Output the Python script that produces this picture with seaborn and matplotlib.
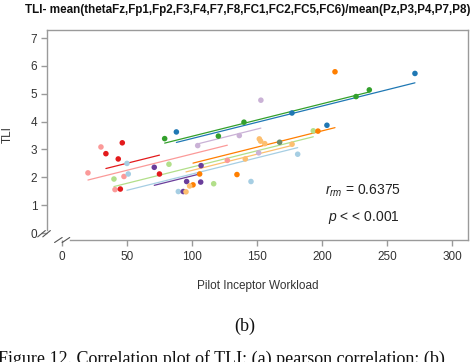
import numpy as np
import pandas as pd
import matplotlib
matplotlib.use("Agg")
import matplotlib.pyplot as plt
import seaborn as sns

# ---------------- data ----------------
subjects = ["S1", "S2", "S3", "S4", "S5", "S6", "S7", "S8", "S9", "S10", "S11"]
subject_colors = ["#fb9a99", "#e31a1c", "#b2df8a", "#a6cee3", "#33a02c", "#1f78b4",
                  "#cab2d6", "#6a3d9a", "#ff7f00", "#fdbf6f", "#6b8a6b"]
workload = [
    [20, 30, 40.8, 47.7, 127.2],
    [33.8, 43.3, 46.4, 44.9, 75],
    [40, 82.3, 116.7, 193.3],
    [50, 51, 89.5, 145.4, 181.3],
    [79, 120.3, 140, 226.2, 236.4],
    [88, 176.9, 203.8, 271.5],
    [104.4, 136.4, 151.3, 153],
    [71, 93.3, 95.9, 106.7, 107],
    [100.8, 105.9, 134.6, 196.9, 210],
    [95.4, 98.2, 141, 151.8, 152.8, 156, 177],
    [167.4],
]
tli = [
    [2.16, 3.09, 1.56, 2.03, 2.61],
    [2.85, 2.66, 3.24, 1.58, 2.12],
    [1.94, 2.47, 1.77, 3.67],
    [2.50, 2.12, 1.49, 1.85, 2.83],
    [3.39, 3.48, 3.98, 4.90, 5.14],
    [3.63, 4.31, 3.87, 5.73],
    [3.14, 3.50, 2.88, 4.77],
    [2.36, 1.49, 1.85, 1.83, 2.42],
    [1.73, 2.12, 2.10, 3.66, 5.79],
    [1.48, 1.69, 2.66, 3.38, 3.30, 3.21, 3.19],
    [3.26],
]
x_ticks = [0, 50, 100, 150, 200, 250, 300]
y_ticks = [0, 1, 2, 3, 4, 5, 6, 7]
r_rm_text = "0.6375"
p_text = "< < 0.001"

# ---------------- repeated-measures fit ----------------
rows = []
for s, xs, ys in zip(subjects, workload, tli):
    for xv, yv in zip(xs, ys):
        rows.append({"subject": s, "workload": xv, "tli": yv})
df = pd.DataFrame(rows)
df["xc"] = df["workload"] - df.groupby("subject")["workload"].transform("mean")
df["yc"] = df["tli"] - df.groupby("subject")["tli"].transform("mean")
slope = (df["xc"] * df["yc"]).sum() / (df["xc"] ** 2).sum()

line_rows = []
for s, g in df.groupby("subject"):
    if len(g) < 2:
        continue
    mx, my = g["workload"].mean(), g["tli"].mean()
    for xv in (g["workload"].min(), g["workload"].max()):
        line_rows.append({"subject": s, "workload": xv, "tli": my + slope * (xv - mx)})
lines = pd.DataFrame(line_rows)

palette = dict(zip(subjects, subject_colors))

# ---------------- figure ----------------
sns.set_theme(style="white")
plt.rcParams["font.family"] = ["Liberation Sans", "DejaVu Sans"]
plt.rcParams["mathtext.fontset"] = "custom"
plt.rcParams["mathtext.it"] = "Liberation Sans:italic"
plt.rcParams["mathtext.rm"] = "Liberation Sans"

fig = plt.figure(figsize=(4.74, 3.62), dpi=100)
ax = fig.add_axes([47 / 474, 1 - 240 / 362, (468 - 47) / 474, (240 - 30) / 362])

sns.lineplot(data=lines, x="workload", y="tli", hue="subject", palette=palette,
             estimator=None, units="subject", legend=False, linewidth=0.9, ax=ax)
sns.scatterplot(data=df, x="workload", y="tli", hue="subject", palette=palette,
                s=16, linewidth=0, legend=False, ax=ax, zorder=3)

ax.set_xlim(-11.5, 312.3)
ax.set_ylim(-0.25, 7.29)
ax.set_xticks(x_ticks)
ax.set_yticks(y_ticks)
ax.set_xticklabels([str(t) for t in x_ticks])
ax.set_yticklabels([str(t) for t in y_ticks])

spine_col = "#9a9a9a"
for sp in ax.spines.values():
    sp.set_color(spine_col)
    sp.set_linewidth(1.0)
ax.spines["left"].set_bounds(0.12, 7.29)
ax.spines["bottom"].set_bounds(6, 312.3)

ax.tick_params(axis="both", which="both", direction="out", length=4, width=1,
               color=spine_col, labelcolor="#333333", labelsize=8.5,
               bottom=True, left=True)
ax.tick_params(axis="y", pad=3)
ax.tick_params(axis="x", pad=4)

ax.set_xlabel("Pilot Inceptor Workload", fontsize=8.5, color="#333333", labelpad=12)
ax.set_ylabel("TLI", fontsize=8.5, color="#333333", labelpad=12)

# axis-break marks
trans = ax.transAxes
for dx in (0.0, 0.012):
    ax.plot([-0.022 + dx, -0.004 + dx], [0.015, 0.045], color="#555555", lw=0.8,
            transform=trans, clip_on=False)
for dx in (0.0, 0.018):
    ax.plot([0.018 + dx, 0.036 + dx], [-0.012, 0.012], color="#555555", lw=0.8,
            transform=trans, clip_on=False)

ax.text(202, 1.51, r"$r_{rm}$ = " + r_rm_text, fontsize=10, color="#222222", ha="left",
        va="center")
ax.text(205, 0.54, r"$p$ " + p_text, fontsize=10, color="#222222", ha="left",
        va="center")

fig.text(25 / 474, 1 - 10 / 362,
         "TLI- mean(thetaFz,Fp1,Fp2,F3,F4,F7,F8,FC1,FC2,FC5,FC6)/mean(Pz,P3,P4,P7,P8)",
         fontsize=8.4, fontweight="bold", color="#111111", ha="left", va="center")

fig.text(245 / 474, 1 - 326 / 362, "(b)", fontsize=13, family="Liberation Serif",
         color="#111111", ha="center", va="center")
fig.text(-2 / 474, 1 - 350 / 362, "Figure 12. Correlation plot of TLI: (a) pearson correlation; (b)",
         fontsize=13, family="Liberation Serif", color="#111111", ha="left", va="top")

fig.savefig("out.png", dpi=100)
